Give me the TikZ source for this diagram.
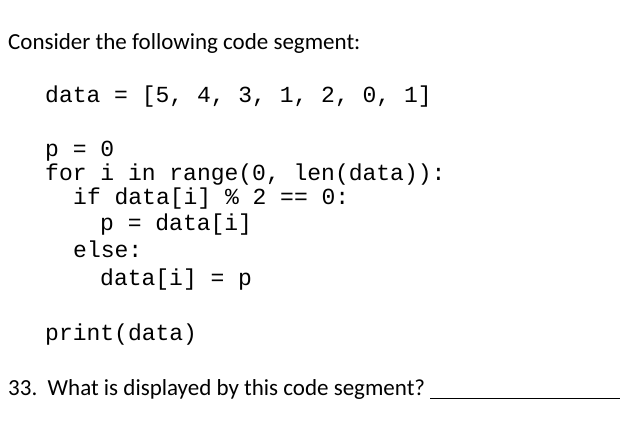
\documentclass[tikz,border=0pt]{standalone}
\usepackage{fontspec}
\setmainfont{Carlito}
\setmonofont{Liberation Mono}
\begin{document}
\begin{tikzpicture}[x=1pt,y=1pt,
  txt/.style={anchor=base west,inner sep=0pt,font=\fontsize{23}{23}\selectfont},
  code/.style={anchor=base west,inner sep=0pt,font=\ttfamily\fontsize{23}{23}\selectfont}]
\useasboundingbox[fill=white] (0,0) rectangle (621,-422);
\node[txt] (t1) at (8,-50) {Consider the following code segment:};
\node[code] (c1) at (45,-103) {data = [5, 4, 3, 1, 2, 0, 1]};
\node[code] (c2) at (45,-157) {p = 0};
\node[code] (c3) at (45,-181) {for i in range(0, len(data)):};
\node[code] (c4) at (73,-205) {if data[i] \% 2 == 0:};
\node[code] (c5) at (100,-231) {p = data[i]};
\node[code] (c6) at (73,-257) {else:};
\node[code] (c7) at (100,-285) {data[i] = p};
\node[code] (c8) at (45,-340) {print(data)};
\node[txt] (q) at (8,-395) {33.\ \ What is displayed by this code segment?};
\coordinate (u1) at (430,-398);
\coordinate (u2) at (620,-398);
\draw[line width=0.8pt] (u1) -- (u2);
\end{tikzpicture}
\end{document}
